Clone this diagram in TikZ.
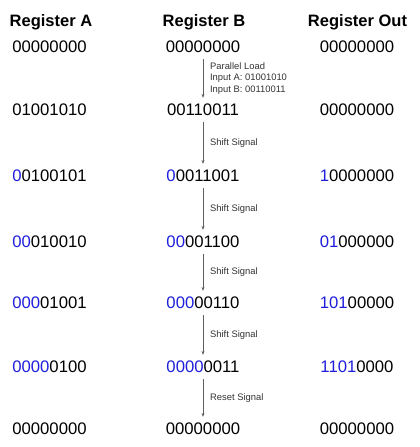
\documentclass[tikz,border=0pt]{standalone}
\usepackage{fontspec}
\setmainfont{Liberation Sans}
\usetikzlibrary{arrows.meta}
\definecolor{shiftblue}{RGB}{30,30,220}
\definecolor{arrowgray}{RGB}{95,95,95}
\newcommand{\sh}[1]{\textcolor{shiftblue}{#1}}

\begin{document}
\begin{tikzpicture}[x=1pt,y=-1pt,
head/.style={
	font=\bfseries\fontsize{16.5}{18}\selectfont,
	anchor=base, inner sep=0pt
},
reg/.style={font=\fontsize{16.7}{18}\selectfont, inner sep=0pt},
sig/.style={
	font=\fontsize{9.4}{11.3}\selectfont, align=left,
	anchor=west, text=black!80, xshift=3.5pt
},
flow/.style={
	-{Stealth[length=4pt,width=3pt]}, draw=arrowgray,
	line width=0.6pt, shorten <=6pt, shorten >=6pt
}
]
\useasboundingbox (0,0) rectangle (420,447);
\node[head] (ha) at (51,26) {Register A};
\node[head] (hb) at (204,26) {Register B};
\node[head] (ho) at (357.5,26) {Register Out};
\foreach \i/\y/\ra/\rb/\ro in {
	1/47/00000000/00000000/00000000,
	2/110/01001010/00110011/00000000,
	3/176/\sh{0}0100101/\sh{0}0011001/\sh{1}0000000,
	4/242/\sh{00}010010/\sh{00}001100/\sh{01}000000,
	5/303/\sh{000}01001/\sh{000}00110/\sh{101}00000,
	6/367/\sh{0000}0100/\sh{0000}0011/\sh{1101}0000,
	7/429/00000000/00000000/00000000}
{
	\node[reg] (a\i) at (49.5,\y) {\ra};
	\node[reg] (b\i) at (203,\y) {\rb};
	\node[reg] (o\i) at (357,\y) {\ro};
}
\foreach \i/\lbl in {
	1/{Parallel Load\\Input A: 01001010\\Input B: 00110011},
	2/{Shift Signal}, 3/{Shift Signal}, 4/{Shift Signal},
	5/{Shift Signal}, 6/{Reset Signal}}
{
	\pgfmathsetmacro\next{int(\i + 1)}
	\draw[flow] (b\i) -- node[sig, midway] {\lbl} (b\next);
}
\end{tikzpicture}
\end{document}
